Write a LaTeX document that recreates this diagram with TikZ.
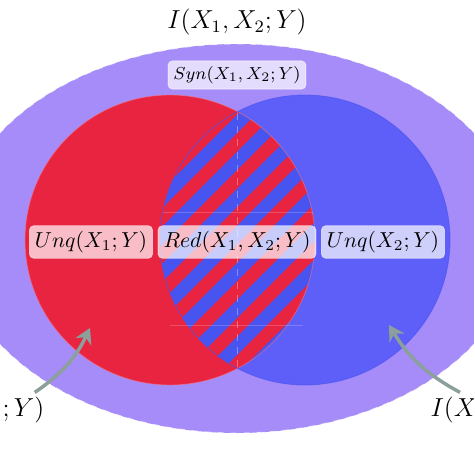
\documentclass[tikz,border=0pt]{standalone}
\usetikzlibrary{arrows.meta}

\definecolor{setred}{RGB}{232,36,64}
\definecolor{setblue}{RGB}{94,94,248}
\definecolor{stripeblue}{RGB}{72,84,240}
\definecolor{setviolet}{RGB}{166,140,248}
\definecolor{arrowgray}{RGB}{140,160,155}

\tikzstyle{infobox} = [rectangle, rounded corners=2pt, fill=white, fill opacity=0.7, text opacity=1, draw=white, draw opacity=0.5, inner sep=2.5pt]
\tikzstyle{arrow} = [line width=1.6pt, draw=arrowgray, -{Stealth[length=7pt,width=8pt]}]

\begin{document}
\begin{tikzpicture}[x=0.0162cm, y=-0.0162cm]
	\clip (0,0) rectangle (474,474);
	\fill[white] (0,0) rectangle (474,474);

	% whole information
	\fill[setviolet] (237,238.5) ellipse (282 and 194.5);
	\draw[white, dashed, thin, opacity=0.6] (237,238.5) ellipse (282 and 194.5);

	% the two sources
	\fill[setred] (170,240) circle (145);
	\fill[setblue] (305,240) circle (145);

	% shared part
	\begin{scope}
		\clip (170,240) circle (145);
		\clip (305,240) circle (145);
		\fill[setred] (150,90) rectangle (330,400);
		\foreach \c in {250,287,...,720}
			\draw[stripeblue, line width=6pt] (\c-80,80) -- (\c-400,400);
	\end{scope}
	\draw[setred!60!white, thin, opacity=0.5] (170,240) circle (145);
	\draw[stripeblue, thin, opacity=0.6] (305,240) circle (145);
	\draw[white, opacity=0.35, dashed] (237,113) -- (237,367);
	\draw[white, opacity=0.2] (163,212) -- (313,212);
	\draw[white, opacity=0.2] (170,325) -- (303,325);

	\node (total) at (237,22) {\large $I(X_1, X_2; Y)$};
	\node (syn) [infobox, font=\footnotesize] at (237,75) {$Syn(X_1, X_2; Y)$};
	\node (unq1) [infobox] at (91,242) {$Unq(X_1;Y)$};
	\node (red) [infobox] at (237,242) {$Red(X_1,X_2;Y)$};
	\node (unq2) [infobox] at (383,242) {$Unq(X_2;Y)$};
	\node (mi1) [anchor=east] at (52,410) {\large $I(X_1;Y)$};
	\node (mi2) [anchor=west] at (423,410) {\large $I(X_2;Y)$};

	\coordinate (tip1) at (90,328);
	\coordinate (tip2) at (389,325);
	\draw [arrow] ([xshift=-0.28cm,yshift=-0.05cm]mi1.north east) to[bend right=15] (tip1);
	\draw [arrow] ([xshift=0.6cm,yshift=-0.05cm]mi2.north west) to[bend left=15] (tip2);
\end{tikzpicture}
\end{document}
